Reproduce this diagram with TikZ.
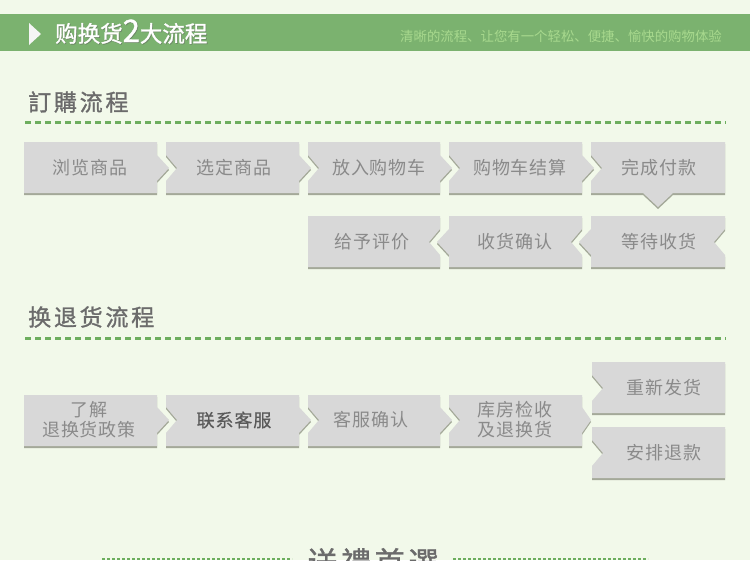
\documentclass[tikz,border=0pt]{standalone}
\usepackage{fontspec}
\setmainfont{Noto Sans CJK SC}
\newfontfamily\boldish[FakeBold=1.2]{Noto Sans CJK SC}
\newfontfamily\semibold[FakeBold=0.5]{Noto Sans CJK SC}
\definecolor{bgc}{HTML}{F2F9EA}
\definecolor{bandc}{HTML}{7BB26F}
\definecolor{subc}{HTML}{A8D98E}
\definecolor{boxc}{HTML}{D8D8D8}
\definecolor{shadc}{HTML}{A4A999}
\definecolor{boxtxt}{HTML}{8A8A8A}
\definecolor{darktxt}{HTML}{5A5A5A}
\definecolor{titlec}{HTML}{6B6B6B}
\definecolor{dashc}{HTML}{6DAE5E}
\newcommand\pbox[1]{\fill[shadc,yshift=-2pt] #1; \fill[boxc] #1;}
\tikzset{
  boxlabel/.style={font=\fontsize{18}{20}\selectfont\addfontfeature{LetterSpace=5}, text=boxtxt, align=center, inner sep=0pt},
  sectitle/.style={font=\boldish\fontsize{23}{26}\selectfont\addfontfeature{LetterSpace=12}, text=titlec, anchor=west, inner sep=0pt},
  sepline/.style={dashc, line width=3pt, dash pattern=on 6pt off 4pt},
}
\begin{document}
\begin{tikzpicture}[x=1pt,y=-1pt]
\clip (0,0) rectangle (750,560);
\fill[bgc] (0,0) rectangle (750,560);
% header band
\fill[bandc] (0,14) rectangle (750,51);
\fill[white!92!gray] (29,23) -- (41,34) -- (29,45) -- cycle;
\node[anchor=base west, inner sep=0pt, text=black!60, opacity=0.45] at (55.8,42.8) {\boldish\fontsize{22.5}{24}\selectfont 购换货\fontsize{31}{30}\selectfont 2\fontsize{22.5}{24}\selectfont 大流程};
\node (head) [anchor=base west, inner sep=0pt, text=white] at (55,42) {\boldish\fontsize{22.5}{24}\selectfont 购换货\fontsize{31}{30}\selectfont 2\fontsize{22.5}{24}\selectfont 大流程};
\node (sub) [anchor=east, inner sep=0pt, text=subc, font=\fontsize{13.4}{14}\selectfont] at (722,36) {清晰的流程、让您有一个轻松、便捷、愉快的购物体验};
% section 1
\node (t1) [sectitle] at (28,102) {訂購流程};
\draw[sepline] (25,122) -- (726,122);
\pbox{(24,142)--(157,142)--(157,155)--(169,168)--(157,181)--(157,193)--(24,193)--cycle}
\pbox{(166,142)--(299,142)--(299,155)--(311,168)--(299,181)--(299,193)--(166,193)--(166,181)--(177,168)--(166,155)--cycle}
\pbox{(308,142)--(440,142)--(440,155)--(452,168)--(440,181)--(440,193)--(308,193)--(308,181)--(319,168)--(308,155)--cycle}
\pbox{(449,142)--(582,142)--(582,155)--(594,168)--(582,181)--(582,193)--(449,193)--(449,181)--(460,168)--(449,155)--cycle}
\pbox{(591,142)--(725,142)--(725,193)--(673,193)--(658,207)--(643,193)--(591,193)--(591,181)--(602,168)--(591,155)--cycle}
\pbox{(308,216)--(440,216)--(440,229)--(429,242)--(440,255)--(440,267)--(308,267)--cycle}
\pbox{(449,216)--(582,216)--(582,229)--(571,242)--(582,255)--(582,267)--(449,267)--(449,255)--(437,242)--(449,229)--cycle}
\pbox{(591,216)--(725,216)--(725,229)--(714,242)--(725,255)--(725,267)--(591,267)--(591,255)--(579,242)--(591,229)--cycle}
\node (a1) [boxlabel] at (90,168) {浏览商品};
\node (a2) [boxlabel] at (234,168) {选定商品};
\node (a3) [boxlabel] at (379,168) {放入购物车};
\node (a4) [boxlabel] at (520,168) {购物车结算};
\node (a5) [boxlabel] at (659,168) {完成付款};
\node (b1) [boxlabel] at (372,242) {给予评价};
\node (b2) [boxlabel] at (515,242) {收货确认};
\node (b3) [boxlabel] at (659,242) {等待收货};
% section 2
\node (t2) [sectitle] at (28,317) {换退货流程};
\draw[sepline] (25,338) -- (726,338);
\pbox{(24,395)--(157,395)--(157,407)--(169,420)--(157,433)--(157,446)--(24,446)--cycle}
\pbox{(166,395)--(299,395)--(299,407)--(311,420)--(299,433)--(299,446)--(166,446)--(166,433)--(177,420)--(166,407)--cycle}
\pbox{(308,395)--(440,395)--(440,407)--(452,420)--(440,433)--(440,446)--(308,446)--(308,433)--(319,420)--(308,407)--cycle}
\pbox{(449,395)--(582,395)--(582,407)--(591,420)--(582,433)--(582,446)--(449,446)--(449,433)--(460,420)--(449,407)--cycle}
\pbox{(592,362)--(725,362)--(725,413)--(592,413)--(592,401)--(603,388)--(592,375)--cycle}
\pbox{(592,427)--(725,427)--(725,478)--(592,478)--(592,466)--(603,453)--(592,440)--cycle}
\node (c1) [boxlabel] at (89,420) {了解\\退换货政策};
\node (c2) [boxlabel, text=darktxt, font=\semibold\fontsize{18}{20}\selectfont\addfontfeature{LetterSpace=5}] at (234,420) {联系客服};
\node (c3) [boxlabel] at (371,420) {客服确认};
\node (c4) [boxlabel] at (515,420) {库房检收\\及退换货};
\node (d1) [boxlabel] at (664,388) {重新发货};
\node (d2) [boxlabel] at (664,453) {安排退款};
% bottom
\draw[dashc, line width=1.5pt, dash pattern=on 3pt off 2pt] (102,559) -- (292,559);
\draw[dashc, line width=1.5pt, dash pattern=on 3pt off 2pt] (453,559) -- (648,559);
\node (t3) [inner sep=0pt, text=titlec, font=\boldish\fontsize{30}{34}\selectfont\addfontfeature{LetterSpace=12}] at (373,562) {送禮首選};
\end{tikzpicture}
\end{document}
